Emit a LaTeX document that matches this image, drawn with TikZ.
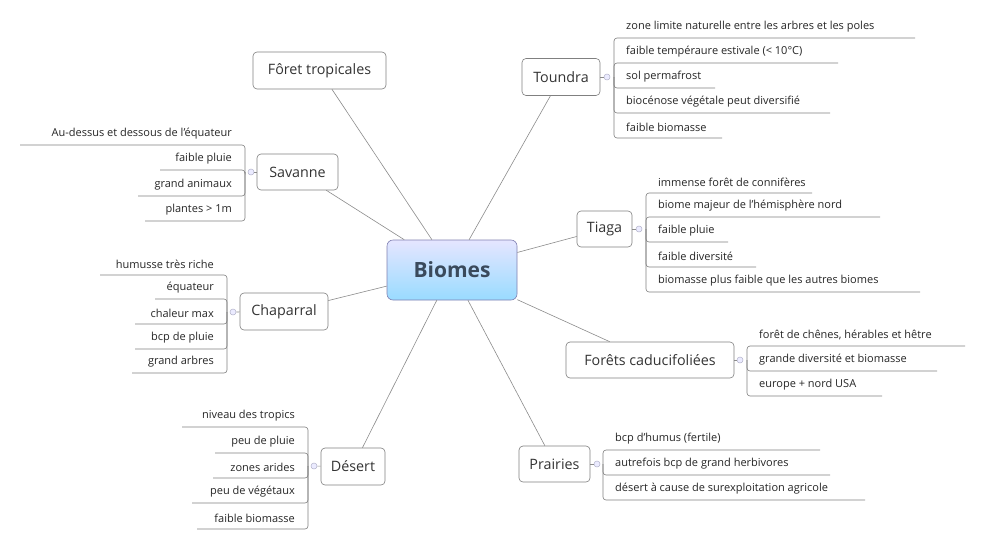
\documentclass[tikz,border=0pt]{standalone}
\usepackage{fontspec}
\setmainfont{Open Sans}
\definecolor{biotxt}{HTML}{3A4A5C}
\begin{document}
\begin{tikzpicture}[x=1pt,y=-1pt,
  conn/.style={draw=black!45,line width=0.6pt},
  bline/.style={draw=black!50,line width=0.6pt,rounded corners=3pt},
  topic/.style={draw=black!50,rounded corners=4pt,fill=white,font=\fontsize{14.3}{17}\selectfont,text=black!80,inner sep=0pt,line width=0.6pt},
  leaf/.style={font=\fontsize{11}{13}\selectfont,text=black!85,inner sep=0pt},
  knob/.style={circle,draw=blue!30!black!30,fill=blue!8,minimum size=6pt,inner sep=0pt,line width=0.5pt}]
\fill[white] (0,0) rectangle (981,544);
\useasboundingbox (0,0) rectangle (981,544);
% central
\node[draw=blue!40!black!50,rounded corners=6pt,top color=blue!10,bottom color=blue!35!cyan!40,minimum width=130pt,minimum height=60pt,font=\bfseries\fontsize{21}{25}\selectfont,text=biotxt,line width=0.6pt] (bio) at (452,270) {Biomes};
% topics
\node[topic,minimum width=78pt,minimum height=37pt] (toun) at (561,77) {Toundra};
\node[topic,minimum width=55pt,minimum height=36pt] (tiag) at (604.5,229) {Tiaga};
\node[topic,minimum width=168pt,minimum height=36pt] (fore) at (650,360) {Forêts caducifoliées};
\node[topic,minimum width=71pt,minimum height=36pt] (prai) at (554.5,464) {Prairies};
\node[topic,minimum width=133pt,minimum height=37pt] (trop) at (319.5,70.5) {Fôret tropicales};
\node[topic,minimum width=81pt,minimum height=36pt] (sava) at (297.5,172) {Savanne};
\node[topic,minimum width=88pt,minimum height=37pt] (chap) at (284,311.5) {Chaparral};
\node[topic,minimum width=64pt,minimum height=37pt] (dese) at (353,466.5) {Désert};
\foreach \t in {toun,tiag,fore,prai,trop,sava,chap,dese} \draw[conn] (bio) -- (\t);
% knobs
\node[knob] (k1) at (607,77) {};
\node[knob] (k2) at (639,229) {};
\node[knob] (k3) at (740,360) {};
\node[knob] (k4) at (597,464) {};
\node[knob] (k5) at (251,172) {};
\node[knob] (k6) at (233,312) {};
\node[knob] (k7) at (314,466) {};
\draw[conn] (toun) -- (k1); \draw[conn] (tiag) -- (k2); \draw[conn] (fore) -- (k3);
\draw[conn] (prai) -- (k4); \draw[conn] (sava) -- (k5); \draw[conn] (chap) -- (k6); \draw[conn] (dese) -- (k7);
\newcommand\myleafR[6]{%
  \coordinate (#1e) at (#5,#4);
  \draw[bline] (#2,#3) -- (#2,#4) -- (#1e);
  \node[leaf,anchor=west] (#1) at (#2+12,#4-11) {#6};}
\newcommand\myleafL[6]{%
  \coordinate (#1e) at (#5,#4);
  \draw[bline] (#2,#3) -- (#2,#4) -- (#1e);
  \node[leaf,anchor=east] (#1) at (#2-13,#4-11) {#6};}
\myleafR{a1}{614}{77}{38}{915}{zone limite naturelle entre les arbres et les poles}
\myleafR{a2}{614}{77}{63}{838}{faible tempéraure estivale (< 10°C)}
\myleafR{a3}{614}{77}{88}{715}{sol permafrost}
\myleafR{a4}{614}{77}{113}{830}{biocénose végétale peut diversifié}
\myleafR{a5}{614}{77}{138}{722}{faible biomasse}
\myleafR{b1}{646}{229}{193}{812}{immense forêt de connifères}
\myleafR{b2}{646}{229}{217}{880}{biome majeur de l'hémisphère nord}
\myleafR{b3}{646}{229}{242}{728}{faible pluie}
\myleafR{b4}{646}{229}{267}{756}{faible diversité}
\myleafR{b5}{646}{229}{292}{920}{biomasse plus faible que les autres biomes}
\myleafR{c1}{747}{360}{346}{965}{forêt de chênes, hérables et hêtre}
\myleafR{c2}{747}{360}{371}{937}{grande diversité et biomasse}
\myleafR{c3}{747}{360}{396}{882}{europe + nord USA}
\myleafR{d1}{603}{464}{450}{820}{bcp d'humus (fertile)}
\myleafR{d2}{603}{464}{475}{830}{autrefois bcp de grand herbivores}
\myleafR{d3}{603}{464}{500}{865}{désert à cause de surexploitation agricole}
\myleafL{e1}{245}{172}{145}{20}{Au-dessus et dessous de l'équateur}
\myleafL{e2}{245}{172}{170}{160}{faible pluie}
\myleafL{e3}{245}{172}{196}{138}{grand animaux}
\myleafL{e4}{245}{172}{221}{145}{plantes > 1m}
\myleafL{f1}{227}{312}{275}{100}{humusse très riche}
\myleafL{f2}{227}{312}{299}{155}{équateur}
\myleafL{f3}{227}{312}{324}{135}{chaleur max}
\myleafL{f4}{227}{312}{349}{135}{bcp de pluie}
\myleafL{f5}{227}{312}{373}{132}{grand arbres}
\myleafL{g1}{308}{466}{427}{182}{niveau des tropics}
\myleafL{g2}{308}{466}{453}{215}{peu de pluie}
\myleafL{g3}{308}{466}{478}{213}{zones arides}
\myleafL{g4}{308}{466}{503}{192}{peu de végétaux}
\myleafL{g5}{308}{466}{529}{197}{faible biomasse}
\end{tikzpicture}
\end{document}
